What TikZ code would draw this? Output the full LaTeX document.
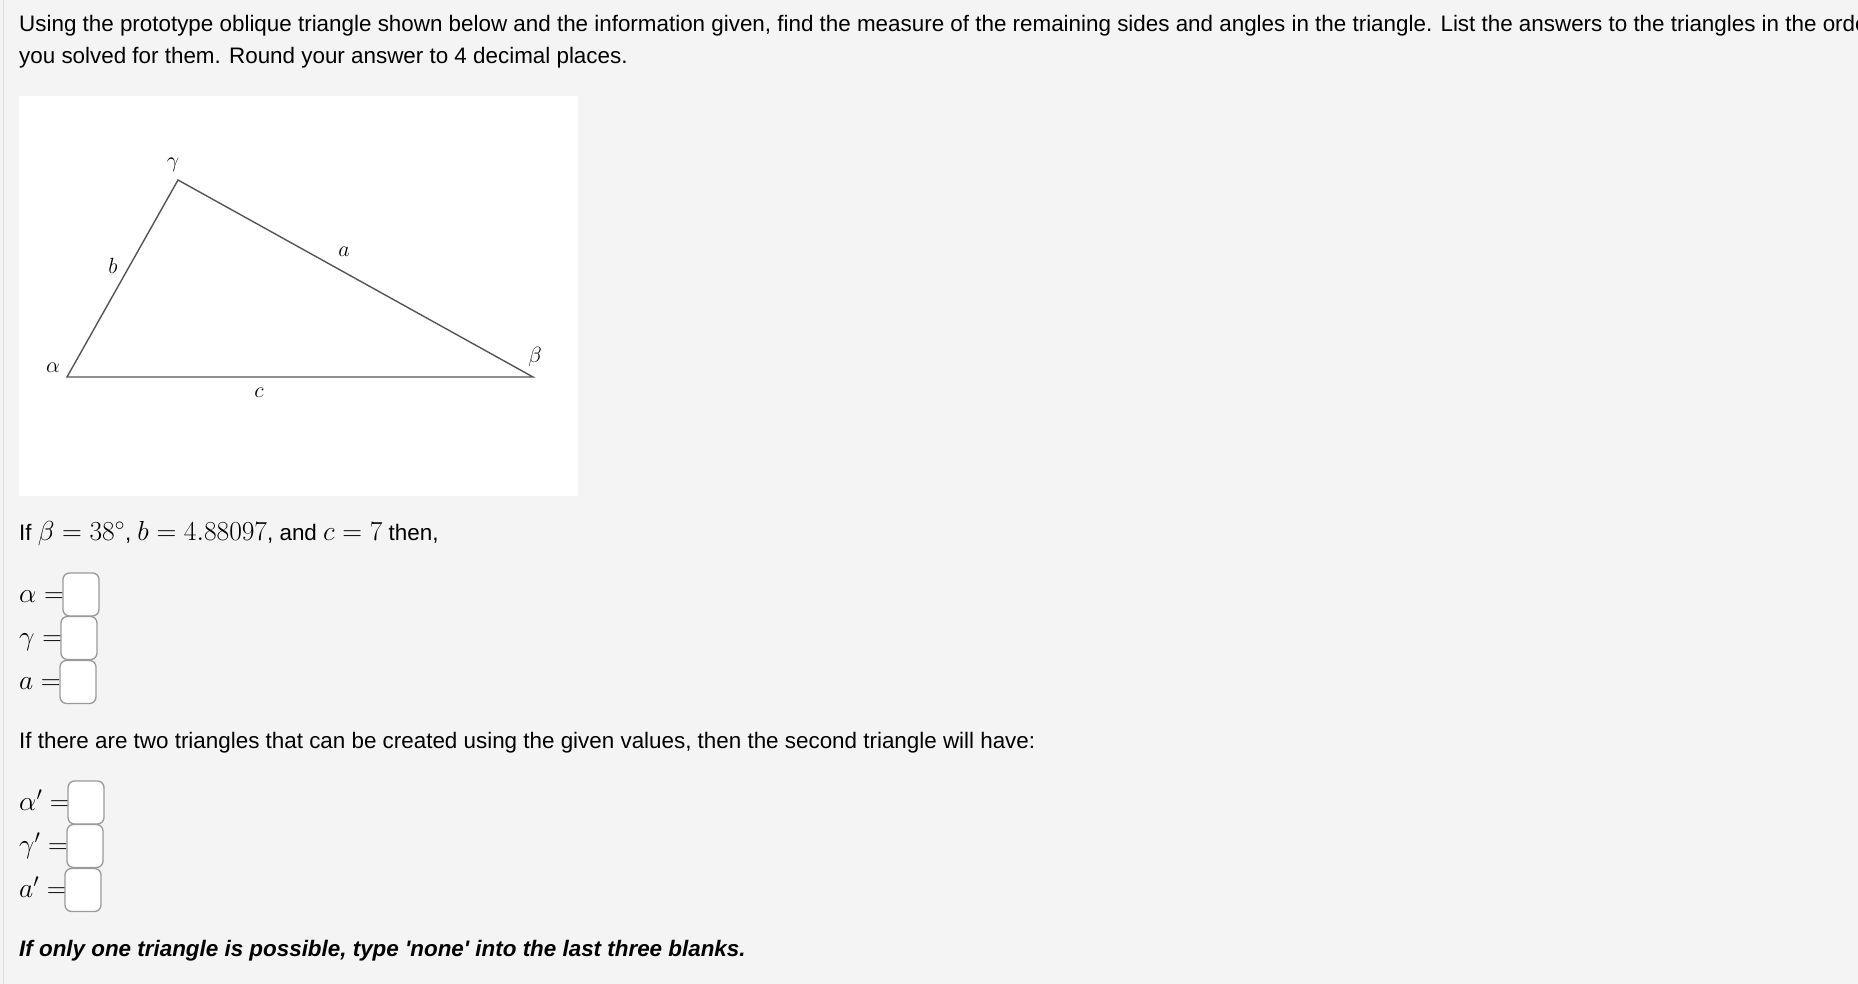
\RequirePackage{fix-cm}
\documentclass[tikz,border=0pt]{standalone}
\usepackage[no-math]{fontspec}
\setmainfont{Liberation Sans}
\definecolor{pagebg}{HTML}{F4F4F4}
\definecolor{rulegray}{HTML}{DDDDDD}
\definecolor{boxgray}{HTML}{9A9A9A}
\definecolor{edgegray}{HTML}{555555}
\newcommand\MJ[1]{{\fontsize{27.5}{31}\selectfont$#1$}}
\begin{document}
\begin{tikzpicture}[x=1pt,y=-1pt,
  txt/.style={anchor=base west, inner sep=0pt, font=\fontsize{22.4}{31}\selectfont, text=black},
  bitxt/.style={txt, font=\fontsize{22.4}{31}\selectfont\bfseries\itshape},
  mth/.style={anchor=base west, inner sep=0pt, font=\fontsize{27.5}{31}\selectfont},
  lbl/.style={inner sep=0pt, font=\fontsize{22}{24}\selectfont},
  inbox/.style={draw=boxgray, fill=white, line width=1.3pt, rounded corners=6.5pt,
    minimum width=36pt, minimum height=43pt, inner sep=0pt},
  edge/.style={draw=edgegray, line width=1.4pt, line join=miter}]
\useasboundingbox (0,0) rectangle (1858,984);
\clip (0,0) rectangle (1858,984);
\fill[pagebg] (0,0) rectangle (1858,984);
\draw[rulegray, line width=1.5pt] (3.5,0) -- (3.5,984);

% question text
\node[txt] (q1) at (19,32) {Using the prototype oblique triangle shown below and the information given, find the measure of the remaining sides and angles in the triangle. List the answers to the triangles in the order};
\node[txt] (q2) at (19,63.5) {you solved for them. Round your answer to 4 decimal places.};

% figure
\fill[white] (19,96) rectangle (578,496);
\coordinate (A) at (67,377);
\coordinate (B) at (533,377);
\coordinate (C) at (178,180);
\draw[edge] (A) -- (B) -- (C) -- cycle;
\node[lbl] (lg) at (173,165) {$\gamma$};
\node[lbl] (lb) at (113,266) {$b$};
\node[lbl] (la) at (344,252) {$a$};
\node[lbl] (lbe) at (535,357) {$\beta$};
\node[lbl] (lal) at (53,368) {$\alpha$};
\node[lbl] (lc) at (259,393) {$c$};

% given
\node[txt] (given) at (19,540) {If \MJ{\beta = 38^\circ}, \MJ{b = 4.88097}, and \MJ{c = 7} then,};

% first triangle answers
\node[mth] (ea) at (19,602) {$\alpha =$};
\node[inbox] (ba) at (81,594.5) {};
\node[mth] (eg) at (19,645) {$\gamma =$};
\node[inbox] (bg) at (79,638) {};
\node[mth] (esa) at (19,689) {$a =$};
\node[inbox] (bsa) at (78,682) {};

\node[txt] (two) at (19,748) {If there are two triangles that can be created using the given values, then the second triangle will have:};

% second triangle answers
\node[mth] (ea2) at (19,810) {$\alpha' =$};
\node[inbox] (ba2) at (86,802.5) {};
\node[mth] (eg2) at (19,853) {$\gamma' =$};
\node[inbox] (bg2) at (85,846) {};
\node[mth] (esa2) at (19,897) {$a' =$};
\node[inbox] (bsa2) at (83,890) {};

\node[bitxt] (note) at (19,956) {If only one triangle is possible, type \textquotesingle none\textquotesingle{} into the last three blanks.};
\end{tikzpicture}
\end{document}
